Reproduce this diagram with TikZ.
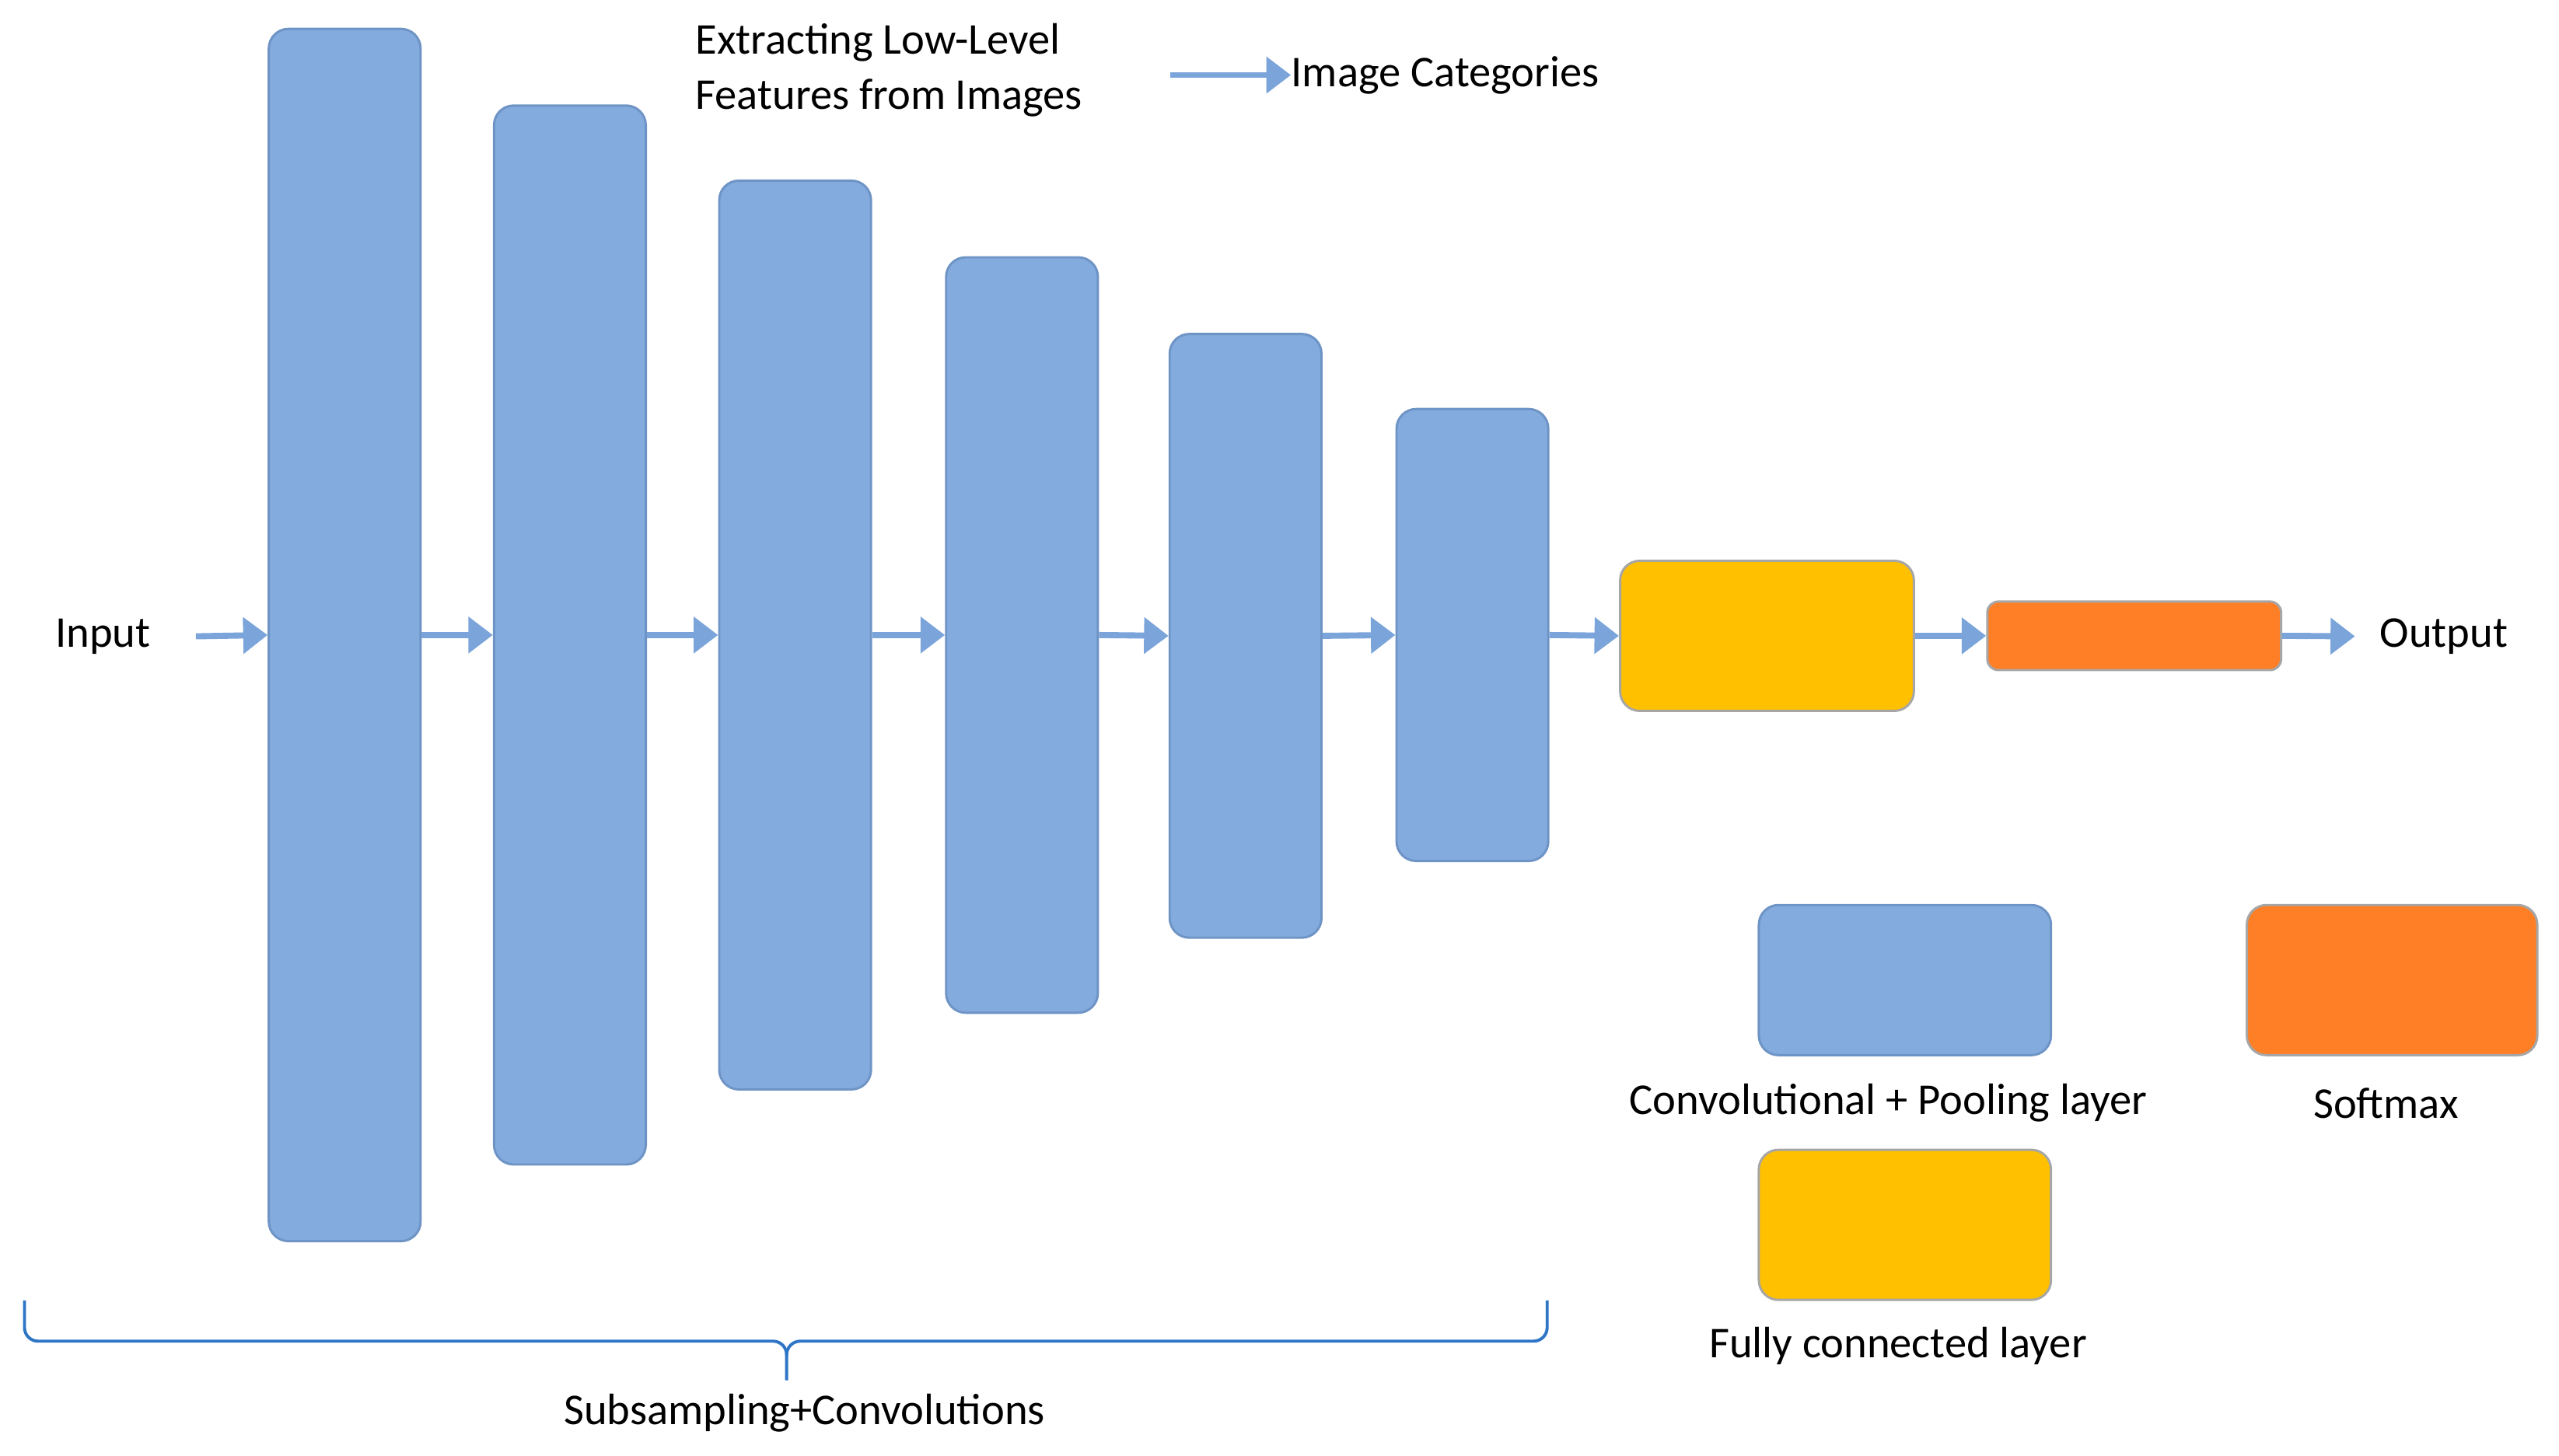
\documentclass[tikz,border=0pt]{standalone}
\usepackage{fontspec}
\setmainfont{Carlito}
\usetikzlibrary{arrows.meta}
\definecolor{cblue}{HTML}{84ABDD}
\definecolor{cbord}{HTML}{6E94C6}
\definecolor{cyel}{HTML}{FFC000}
\definecolor{cora}{HTML}{FF7F27}
\definecolor{carr}{HTML}{7BA5DA}
\definecolor{cbrace}{HTML}{2E75C6}
\begin{document}
\begin{tikzpicture}[x=0.03cm,y=-0.03cm,
 blk/.style={draw=cbord,line width=1.2pt,rounded corners=3.6mm,fill=cblue},
 fc/.style={draw=gray!70,line width=1.2pt,rounded corners=3.6mm,fill=cyel},
 sm/.style={draw=gray!70,line width=1.2pt,rounded corners=2mm,fill=cora},
 arr/.style={carr,line width=3.2pt,-{Triangle[length=4.5mm,width=6.5mm]}},
 txt/.style={font=\fontsize{23}{28}\selectfont,inner sep=0pt}]
\useasboundingbox (0,0) rectangle (1568,892);
\node[blk,anchor=north west,minimum width=93*0.03cm,minimum height=743*0.03cm] (b1) at (164,17) {};
\node[blk,anchor=north west,minimum width=93*0.03cm,minimum height=649*0.03cm] (b2) at (302,64) {};
\node[blk,anchor=north west,minimum width=93*0.03cm,minimum height=557*0.03cm] (b3) at (440,110) {};
\node[blk,anchor=north west,minimum width=93*0.03cm,minimum height=463*0.03cm] (b4) at (579,157) {};
\node[blk,anchor=north west,minimum width=93*0.03cm,minimum height=370*0.03cm] (b5) at (716,204) {};
\node[blk,anchor=north west,minimum width=93*0.03cm,minimum height=277*0.03cm] (b6) at (855,250) {};
\node[fc,anchor=north west,minimum width=180*0.03cm,minimum height=92*0.03cm] (f) at (992,343) {};
\node[sm,anchor=north west,minimum width=180*0.03cm,minimum height=42*0.03cm] (s) at (1217,368) {};
\node[txt] (in) at (63,390) {Input};
\node[txt,anchor=west] (out) at (1458,390) {Output};
\coordinate (ia) at (120,390);
\coordinate (oa) at (1443,390);
\draw[arr] (ia) -- (b1.west);
\draw[arr] (b1.east) -- (b2.west);
\draw[arr] (b2.east) -- (b3.west);
\draw[arr] (b3.east) -- (b4.west);
\draw[arr] (b4.east) -- (b5.west);
\draw[arr] (b5.east) -- (b6.west);
\draw[arr] (b6.east) -- (f.west);
\draw[arr] (f.east) -- (s.west);
\draw[arr] (s.east) -- (oa);
% top legend
\node[txt,anchor=north west,align=left,text depth=0pt] (ext) at (426,14) {Extracting Low-Level\\[1pt]Features from Images};
\coordinate (ta) at (717,46);
\node[txt,anchor=west] (cat) at (791,46) {Image Categories};
\draw[arr] (ta) -- (cat.west);
% legend
\node[blk,anchor=north west,minimum width=179*0.03cm,minimum height=92*0.03cm] (lb) at (1077,554) {};
\node[sm,rounded corners=3.6mm,anchor=north west,minimum width=178*0.03cm,minimum height=92*0.03cm] (lo) at (1376,554) {};
\node[fc,anchor=north west,minimum width=179*0.03cm,minimum height=92*0.03cm] (ly) at (1077,704) {};
\node[txt] (lbt) at (1157,676) {Convolutional + Pooling layer};
\node[txt] (lot) at (1462,676) {Softmax};
\node[txt] (lyt) at (1163,825) {Fully connected layer};
% brace
\draw[cbrace,line width=1.6pt,rounded corners=2.5mm] (15,797) -- (15,822) -- (482,822) -- (482,846);
\draw[cbrace,line width=1.6pt,rounded corners=2.5mm] (482,830) -- (482,822) -- (948,822) -- (948,797);
\node[txt] (br) at (493,866) {Subsampling+Convolutions};
\end{tikzpicture}
\end{document}
